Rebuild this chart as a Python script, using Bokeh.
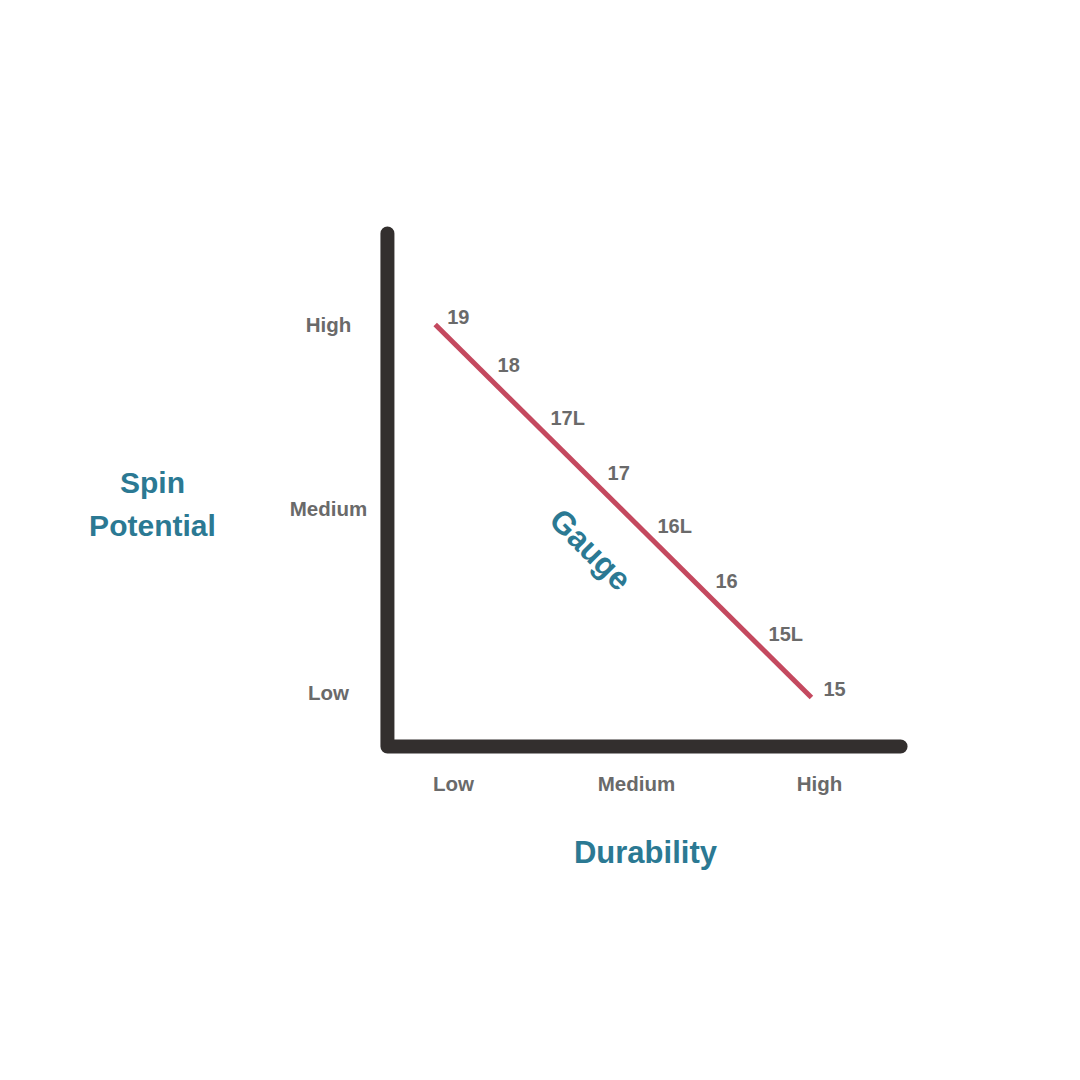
from bokeh.plotting import figure
from bokeh.models import Range1d, ColumnDataSource
from bokeh.core.properties import value
from bokeh.embed import file_html
from bokeh.resources import INLINE
import math

# ---- data ----
gauges = ["19", "18", "17L", "17", "16L", "16", "15L", "15"]
durability = [0.90, 1.175, 1.464, 1.776, 2.049, 2.366, 2.656, 2.956]
spin = [3.00, 2.739, 2.446, 2.147, 1.864, 1.565, 1.272, 0.973]
level_labels = ["Low", "Medium", "High"]
level_values = [1, 2, 3]
x_title = "Durability"
y_title_lines = ["Spin", "Potential"]
series_label = "Gauge"

FONT = value("Liberation Sans")
TEAL = "#2b7993"
GRAY = "#6a6a6a"
CRIMSON = "#c4495f"
DARK = "#332f2e"

p = figure(width=1064, height=1064, output_backend="svg", toolbar_location=None,
           x_range=Range1d(-1.4754, 4.3388), y_range=Range1d(-1.0217, 4.7609),
           min_border=0)
p.axis.visible = False
p.grid.visible = False
p.outline_line_color = None
p.background_fill_color = "white"
p.border_fill_color = "white"

# axes drawn as thick lines
ax_x0, ax_y0 = 0.639, 0.7065
p.line(x=[ax_x0, ax_x0, 3.443], y=[3.495, ax_y0, ax_y0], line_width=14,
       line_color=DARK, line_join="round", line_cap="round")

# gauge line (straight from the first gauge to the last)
src = ColumnDataSource(dict(x=durability, y=spin, t=gauges))
p.line(x=[durability[0], durability[-1]], y=[spin[0], spin[-1]], line_width=5,
       line_color=CRIMSON, line_cap="butt")
p.text("x", "y", text="t", source=src, x_offset=12, y_offset=-8,
       text_align="left", text_baseline="middle", text_font=FONT,
       text_font_style="bold", text_font_size="20px", text_color=GRAY)

# tick labels
p.text(x=[0.317] * 3, y=level_values, text=level_labels, text_align="center",
       text_baseline="middle", text_font=FONT, text_font_style="bold",
       text_font_size="20.5px", text_color=GRAY)
p.text(x=level_values, y=[0.5054] * 3, text=level_labels, text_align="center",
       text_baseline="middle", text_font=FONT, text_font_style="bold",
       text_font_size="20.5px", text_color=GRAY)

# axis titles
p.text(x=[-0.645, -0.645], y=[2.141, 1.908], text=y_title_lines, text_align="center",
       text_baseline="middle", text_font=FONT, text_font_style="bold",
       text_font_size="30px", text_color=TEAL)
p.text(x=[2.049], y=[0.1304], text=[x_title], text_align="center",
       text_baseline="middle", text_font=FONT, text_font_style="bold",
       text_font_size="31px", text_color=TEAL)

# series label
p.text(x=[1.749], y=[1.777], text=[series_label], angle=-math.pi / 4,
       text_align="center", text_baseline="middle", text_font=FONT,
       text_font_style="bold", text_font_size="32px", text_color=TEAL)

open("out.html", "w").write(file_html(p, INLINE))
